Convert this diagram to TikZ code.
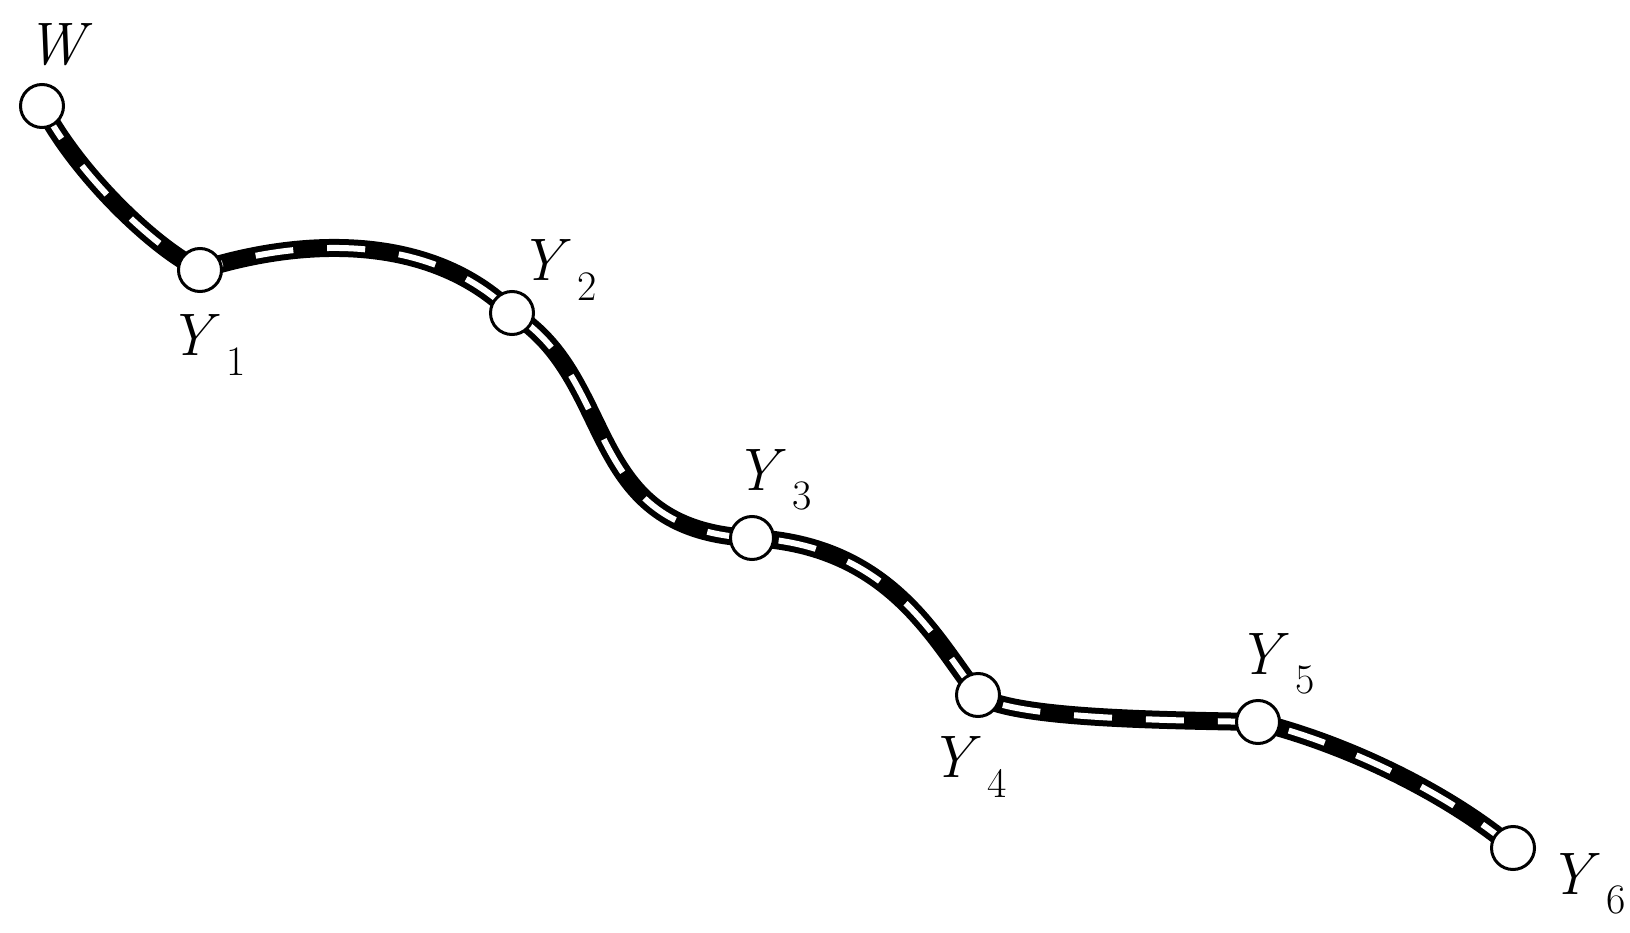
\documentclass[tikz,border=0pt]{standalone}
\usetikzlibrary{backgrounds}
\newcommand{\lab}[2]{\textit{#1}\raisebox{-0.32em}{\fontsize{42}{48}\selectfont\,#2}}
\begin{document}
\begin{tikzpicture}[x=1pt,y=-1pt,
  stn/.style={circle,draw=black,fill=white,line width=3pt,minimum size=43pt,inner sep=0pt},
  lbl/.style={font=\fontsize{60}{72}\selectfont,inner sep=0pt},
  railout/.style={draw=black,line width=18pt},
  railin/.style={draw=white,line width=6pt,dash pattern=on 38pt off 34pt}]
\useasboundingbox (0,0) rectangle (1630,933);
\node[stn] (W) at (42,106) {};
\node[stn] (Y1) at (200,270) {};
\node[stn] (Y2) at (512,313) {};
\node[stn] (Y3) at (752,538) {};
\node[stn] (Y4) at (978,695) {};
\node[stn] (Y5) at (1258,722) {};
\node[stn] (Y6) at (1513,848) {};
\begin{pgfonlayer}{background}
\foreach \st in {railout,railin}{
\draw[\st] (W.center) .. controls (75,170) and (150,245) .. (Y1.center)
  .. controls (300,238) and (430,232) .. (Y2.center)
  .. controls (620,380) and (580,530) .. (Y3.center)
  .. controls (890,545) and (935,640) .. (Y4.center)
  .. controls (1010,718) and (1150,720) .. (Y5.center)
  .. controls (1350,745) and (1450,795) .. (Y6.center);
}
\end{pgfonlayer}
\node[lbl] (lW) at (60,45) {\textit{W}};
\node[lbl] (lY1) at (207,345) {\lab{Y}{1}};
\node[lbl] (lY2) at (558,270) {\lab{Y}{2}};
\node[lbl] (lY3) at (773,480) {\lab{Y}{3}};
\node[lbl] (lY4) at (968,767) {\lab{Y}{4}};
\node[lbl] (lY5) at (1276,664) {\lab{Y}{5}};
\node[lbl] (lY6) at (1587,884) {\lab{Y}{6}};
\end{tikzpicture}
\end{document}
